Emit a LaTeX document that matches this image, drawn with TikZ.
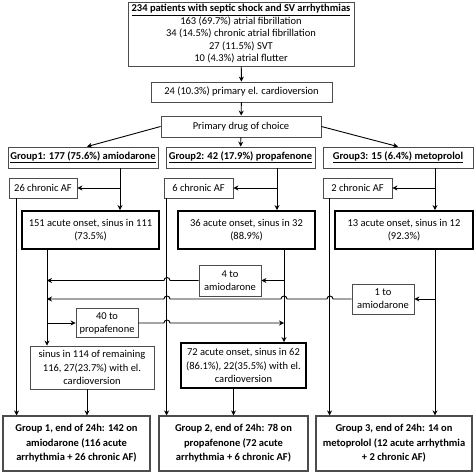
\documentclass[tikz,border=0pt]{standalone}
\usepackage{fontspec}
\setmainfont{Carlito}
\usetikzlibrary{arrows.meta}

\tikzset{
    box/.style={draw=black!70, line width=0.8pt, fill=white, align=center, inner sep=1pt},
    thickbox/.style={box, draw=black, line width=1.8pt},
    endbox/.style={box, line width=1.1pt, font=\bfseries\fontsize{10.5}{14.5}\selectfont},
    conn/.style={line width=0.9pt, -{Stealth[length=5pt, width=5pt]}},
    plain/.style={line width=0.9pt},
}

\begin{document}
\begin{tikzpicture}[x=1pt, y=-1pt, font=\fontsize{10.5}{13}\selectfont]
    %--------------------%
    % Parameters
    %--------------------%
    \def\jr{3pt}
    \useasboundingbox (0,0) rectangle (474,473);

    % x positions of the vertical lines
    \coordinate (tr1) at (120,0);
    \coordinate (tr2) at (277,0);
    \coordinate (tr3) at (435,0);
    \coordinate (la) at (47,0);
    \coordinate (lb) at (284,0);
    \coordinate (lc) at (435,0);

    %--------------------%
    % Top
    %--------------------%
    \node[box, minimum width=226, minimum height=64, font=\fontsize{10.5}{12.5}\selectfont] (top) at (241,34)
        {\textbf{\underline{234 patients with septic shock and SV arrhythmias}}\\
         163 (69.7\%) atrial fibrillation\\
         34 (14.5\%) chronic atrial fibrillation\\
         27 (11.5\%) SVT\\
         10 (4.3\%) atrial flutter};
    \node[box, minimum width=181, minimum height=20] (cardio) at (241.5,92) {24 (10.3\%) primary el. cardioversion};
    \node[box, minimum width=160, minimum height=21] (drug) at (241,126.5) {Primary drug of choice};

    %--------------------%
    % Groups
    %--------------------%
    \node[box, minimum width=150, minimum height=21] (g1) at (83,157.5) {\textbf{\underline{Group1: 177 (75.6\%) amiodarone}}};
    \node[box, minimum width=149, minimum height=21] (g2) at (240.5,157.5) {\textbf{\underline{Group2: 42 (17.9\%) propafenone}}};
    \node[box, minimum width=150, minimum height=21] (g3) at (398,157.5) {\textbf{\underline{Group3: 15 (6.4\%) metoprolol}}};

    \node[box, minimum width=68, minimum height=20] (c1) at (43,188) {26 chronic AF};
    \node[box, minimum width=69, minimum height=20] (c2) at (198.5,188) {6 chronic AF};
    \node[box, minimum width=69, minimum height=20] (c3) at (357.5,188) {2 chronic AF};

    \node[thickbox, minimum width=137, minimum height=38] (a1) at (90.5,230) {151 acute onset, sinus in 111\\(73.5\%)};
    \node[thickbox, minimum width=137, minimum height=38] (a2) at (246.5,230) {36 acute onset, sinus in 32\\(88.9\%)};
    \node[thickbox, minimum width=138, minimum height=38] (a3) at (404,230) {13 acute onset, sinus in 12\\(92.3\%)};

    %--------------------%
    % Switches
    %--------------------%
    \node[box, minimum width=62, minimum height=31] (t4) at (230,280.5) {4 to\\amiodarone};
    \node[box, minimum width=62, minimum height=30] (t1) at (383,299) {1 to\\amiodarone};
    \node[box, minimum width=62, minimum height=29] (t40) at (107,323) {40 to\\propafenone};

    \node[box, minimum width=124, minimum height=43, font=\fontsize{10.5}{13.5}\selectfont] (s1) at (92,367.5)
        {sinus in 114 of remaining\\116, 27(23.7\%) with el.\\cardioversion};
    \node[thickbox, minimum width=125, minimum height=45, font=\fontsize{10.5}{13.5}\selectfont] (s2) at (243.5,365.5)
        {72 acute onset, sinus in 62\\(86.1\%), 22(35.5\%) with el.\\cardioversion};

    %--------------------%
    % End of 24h
    %--------------------%
    \node[endbox, minimum width=147, minimum height=55] (e1) at (76.5,443.5)
        {Group 1, end of 24h: 142 on\\amiodarone (116 acute\\arrhythmia + 26 chronic AF)};
    \node[endbox, minimum width=149, minimum height=55] (e2) at (233.5,443.5)
        {Group 2, end of 24h: 78 on\\propafenone (72 acute\\arrhythmia + 6 chronic AF)};
    \node[endbox, minimum width=156, minimum height=55] (e3) at (394,443.5)
        {Group 3, end of 24h: 14 on\\metoprolol (12 acute arrhythmia\\+ 2 chronic AF)};

    %--------------------%
    % Connections
    %--------------------%
    \draw[conn] (top) -- (cardio);
    \draw[conn] (cardio) -- (drug);
    \draw[conn] (drug.west) -- ([xshift=4pt]g1.north);
    \draw[conn] (drug) -- (g2);
    \draw[conn] (drug.east) -- (g3.north);

    % group trunks
    \draw[conn] (tr1 |- g1.south) -- (tr1 |- a1.north);
    \draw[conn] (tr1 |- c1.east) -- (c1.east);
    \draw[conn] (tr2 |- g2.south) -- (tr2 |- a2.north);
    \draw[conn] (tr2 |- c2.east) -- (c2.east);
    \draw[conn] (tr3 |- g3.south) -- (tr3 |- a3.north);
    \draw[conn] (tr3 |- c3.east) -- (c3.east);

    % chronic AF to end of 24h
    \draw[conn] ([xshift=8pt]c1.south west) -- ([xshift=8pt]c1.south west |- e1.north);
    \draw[conn] ([xshift=3pt]c2.south west) -- ([xshift=3pt]c2.south west |- e2.north);
    \draw[conn] ([xshift=7pt]c3.south west) -- ([xshift=7pt]c3.south west |- e3.north);

    % acute onset lines
    \draw[conn] (la |- a1.south) -- (la |- s1.north);
    \draw[conn] (lb |- a2.south) -- (lb |- s2.north);
    \draw[conn] (lc |- a3.south) -- (lc |- e3.north);
    \draw[conn] ([xshift=-5pt]s1.south) -- ([xshift=-5pt]s1.south |- e1.north);
    \draw[conn] ([xshift=-10pt]s2.south) -- ([xshift=-10pt]s2.south |- e2.north);

    % switches to amiodarone
    \draw[conn] (lb |- t4.east) -- (t4.east);
    \draw[conn] (t4.west) -- (170,280.5) arc (0:180:\jr) -- (la |- t4.west);
    \draw[conn] (lc |- t1.east) -- (t1.east);
    \draw[conn] (t1.west) -- (333,299) arc (0:180:\jr) -- (287,299) arc (0:180:\jr)
        -- (170,299) arc (0:180:\jr) -- (la |- t1.west);

    % switch to propafenone
    \draw[conn] (la |- t40.west) -- (t40.west);
    \draw[conn] (t40.east) -- (164,323) arc (180:0:\jr) -- (lb |- t40.east);

\end{tikzpicture}
\end{document}
